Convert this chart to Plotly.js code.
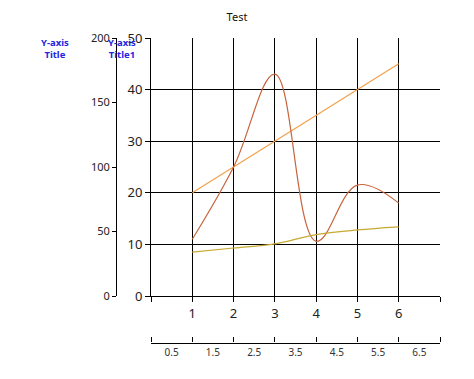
<!DOCTYPE html>
<html><head><meta charset="utf-8">
<script src="https://cdn.plot.ly/plotly-3.0.1.min.js"></script>
<style>body{margin:0;background:#fff}#c{width:474px;height:379px}</style>
</head><body><div id="c"></div>
<script>
const xs = [1, 2, 3, 4, 5, 6];
const seriesLinear = [20, 25, 30, 35, 40, 45];
const seriesSpline = [11, 25, 43, 10.6, 21.5, 18];
const seriesLow = [8.5, 9.3, 10.1, 11.9, 12.8, 13.4];
const xTickVals = [0, 1, 2, 3, 4, 5, 6, 7];
const xTickText = ['', '1', '2', '3', '4', '5', '6', ''];
const x2Labels = ['0.5', '1.5', '2.5', '3.5', '4.5', '5.5', '6.5'];
const x2MarkVals = [0, 1, 2, 3, 4, 5, 6, 7];
const y1TickVals = [0, 10, 20, 30, 40, 50];
const y2TickVals = [0, 50, 100, 150, 200];
const chartTitle = 'Test';
const y1Title = 'Y-axis<br>Title';
const y2Title = 'Y-axis<br>Title1';

const font = 'Noto Sans, DejaVu Sans, sans-serif';
const traces = [
  {x: xs, y: seriesLinear, type: 'scatter', mode: 'lines', line: {color: '#f5a04a', width: 1.2}, xaxis: 'x', yaxis: 'y'},
  {x: xs, y: seriesSpline, type: 'scatter', mode: 'lines', line: {color: '#c8643c', width: 1.2, shape: 'spline', smoothing: 1.1}, xaxis: 'x', yaxis: 'y'},
  {x: xs, y: seriesLow, type: 'scatter', mode: 'lines', line: {color: '#c8aa32', width: 1.2, shape: 'spline'}, xaxis: 'x', yaxis: 'y'}
];
const L = 100, R = 34, T = 38, B = 36, W = 474, H = 379;
const pw = W - L - R, ph = H - T - B;
const xdom = [(151 - L) / pw, (440 - L) / pw];
const ydom = [(343 - 296) / ph, 1];
const layout = {
  width: W, height: H,
  margin: {l: L, r: R, t: T, b: B, pad: 0},
  paper_bgcolor: '#fff', plot_bgcolor: 'rgba(0,0,0,0)',
  showlegend: false,
  font: {family: font, color: '#222'},
  title: {text: chartTitle, x: 0.5, xref: 'container', y: 1 - 17 / H, yref: 'container', yanchor: 'middle', xanchor: 'center', font: {size: 11, color: '#111', family: font}},
  xaxis: {domain: xdom, range: [0, 7], tickmode: 'array', tickvals: xTickVals, ticktext: xTickText,
    showgrid: true, gridcolor: '#000', gridwidth: 1, zeroline: false, showline: true, linecolor: '#000', linewidth: 1,
    ticks: 'outside', ticklen: 5, tickcolor: '#000', tickfont: {size: 13, color: '#222'}, anchor: 'y', fixedrange: true},
  yaxis: {domain: ydom, range: [0, 50], tickmode: 'array', tickvals: y1TickVals,
    showgrid: true, gridcolor: '#000', gridwidth: 1, zeroline: false, showline: true, linecolor: '#000', linewidth: 1,
    ticks: 'outside', ticklen: 5, tickcolor: '#000', tickfont: {size: 13, color: '#222'}, anchor: 'x'},
  yaxis2: {overlaying: 'y', side: 'left', anchor: 'free', position: (116 - L) / pw, range: [0, 200],
    tickmode: 'array', tickvals: y2TickVals, showgrid: false, zeroline: false, showline: true, linecolor: '#000', linewidth: 1,
    ticks: 'outside', ticklen: 4, tickcolor: '#000', tickfont: {size: 11, color: '#222'}},
  yaxis3: {domain: [0, 0.001], anchor: 'x2', range: [0, 1], showgrid: false, zeroline: false, showline: false, showticklabels: false, ticks: ''},
  xaxis2: {anchor: 'y3', side: 'bottom', domain: xdom,
    type: 'category', categoryorder: 'array', categoryarray: x2Labels, range: [-0.5, x2Labels.length - 0.5],
    ticks: '', showgrid: false, zeroline: false,
    showline: true, linecolor: '#000', linewidth: 1, tickfont: {size: 10, color: '#333'}},
  xaxis3: {anchor: 'y3', side: 'top', domain: xdom, range: [0, 7], tickmode: 'array', tickvals: x2MarkVals,
    ticks: 'outside', ticklen: 5, tickwidth: 1, tickcolor: '#000', showticklabels: false,
    showgrid: false, zeroline: false, showline: false},
  annotations: [
    {text: '<b>' + y1Title + '</b>', xref: 'paper', yref: 'paper', x: (55 - L) / pw, y: 1 - (48 - T) / ph, showarrow: false, font: {size: 9.5, color: '#2424e0', family: font}, xanchor: 'center', yanchor: 'middle'},
    {text: '<b>' + y2Title + '</b>', xref: 'paper', yref: 'paper', x: (122 - L) / pw, y: 1 - (48 - T) / ph, showarrow: false, font: {size: 9.5, color: '#2424e0', family: font}, xanchor: 'center', yanchor: 'middle'}
  ]
};
// invisible traces to activate the secondary axes
traces.push({x: [0], y: [0], xaxis: 'x', yaxis: 'y2', type: 'scatter', mode: 'markers', marker: {opacity: 0}, hoverinfo: 'skip'});
traces.push({x: x2Labels, y: x2Labels.map(() => 0), xaxis: 'x2', yaxis: 'y3', type: 'scatter', mode: 'markers', marker: {opacity: 0}, hoverinfo: 'skip'});
traces.push({x: x2MarkVals, y: x2MarkVals.map(() => 0), xaxis: 'x3', yaxis: 'y3', type: 'scatter', mode: 'markers', marker: {opacity: 0}, hoverinfo: 'skip'});
Plotly.newPlot('c', traces, layout, {staticPlot: true});
</script></body></html>
